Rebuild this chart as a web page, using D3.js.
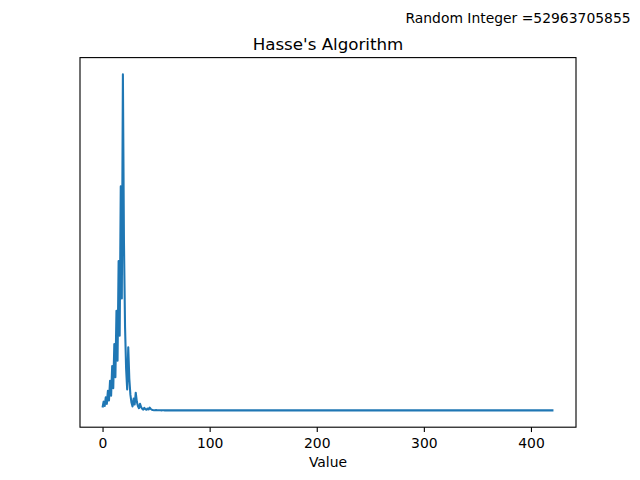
<!DOCTYPE html>
<html>
<head>
<meta charset="utf-8">
<script src="https://cdn.jsdelivr.net/npm/d3@7"></script>
<style>
  html, body { margin: 0; padding: 0; background: #fff; }
  svg { display: block; font-family: "DejaVu Sans", sans-serif; }
</style>
</head>
<body>
<svg id="chart" width="640" height="480"></svg>
<script>
// ---- data ----
const titleText = "Hasse's Algorithm";
const subtitleText = "Random Integer =52963705855";
const xLabel = "Value";
const xTicks = [0, 100, 200, 300, 400];
// sequence values (index = step)
const values = [
52963705855,158891117566,79445558783,238336676350,119168338175,357505014526,178752507263,536257521790,268128760895,804386282686,
402193141343,1206579424030,603289712015,1809869136046,904934568023,2714803704070,1357401852035,4072205556106,2036102778053,6108308334160,
3054154167080,1527077083540,763538541770,381769270885,1145307812656,572653906328,286326953164,143163476582,71581738291,214745214874,
107372607437,322117822312,161058911156,80529455578,40264727789,120794183368,60397091684,30198545842,15099272921,45297818764,
22648909382,11324454691,33973364074,16986682037,50960046112,25480023056,12740011528,6370005764,3185002882,1592501441,
4777504324,2388752162,1194376081,3583128244,1791564122,895782061,2687346184,1343673092,671836546,335918273,
1007754820,503877410,251938705,755816116,377908058,188954029,566862088,283431044,141715522,70857761,
212573284,106286642,53143321,159429964,79714982,39857491,119572474,59786237,179358712,89679356,
44839678,22419839,67259518,33629759,100889278,50444639,151333918,75666959,227000878,113500439,
340501318,170250659,510751978,255375989,766127968,383063984,191531992,95765996,47882998,23941499,
71824498,35912249,107736748,53868374,26934187,80802562,40401281,121203844,60601922,30300961,
90902884,45451442,22725721,68177164,34088582,17044291,51132874,25566437,76699312,38349656,
19174828,9587414,4793707,14381122,7190561,21571684,10785842,5392921,16178764,8089382,
4044691,12134074,6067037,18201112,9100556,4550278,2275139,6825418,3412709,10238128,
5119064,2559532,1279766,639883,1919650,959825,2879476,1439738,719869,2159608,
1079804,539902,269951,809854,404927,1214782,607391,1822174,911087,2733262,
1366631,4099894,2049947,6149842,3074921,9224764,4612382,2306191,6918574,3459287,
10377862,5188931,15566794,7783397,23350192,11675096,5837548,2918774,1459387,4378162,
2189081,6567244,3283622,1641811,4925434,2462717,7388152,3694076,1847038,923519,
2770558,1385279,4155838,2077919,6233758,3116879,9350638,4675319,14025958,7012979,
21038938,10519469,31558408,15779204,7889602,3944801,11834404,5917202,2958601,8875804,
4437902,2218951,6656854,3328427,9985282,4992641,14977924,7488962,3744481,11233444,
5616722,2808361,8425084,4212542,2106271,6318814,3159407,9478222,4739111,14217334,
7108667,21326002,10663001,31989004,15994502,7997251,23991754,11995877,35987632,17993816,
8996908,4498454,2249227,6747682,3373841,10121524,5060762,2530381,7591144,3795572,
1897786,948893,2846680,1423340,711670,355835,1067506,533753,1601260,800630,
400315,1200946,600473,1801420,900710,450355,1351066,675533,2026600,1013300,
506650,253325,759976,379988,189994,94997,284992,142496,71248,35624,
17812,8906,4453,13360,6680,3340,1670,835,2506,1253,
3760,1880,940,470,235,706,353,1060,530,265,
796,398,199,598,299,898,449,1348,674,337,
1012,506,253,760,380,190,95,286,143,430,
215,646,323,970,485,1456,728,364,182,91,
274,137,412,206,103,310,155,466,233,700,
350,175,526,263,790,395,1186,593,1780,890,
445,1336,668,334,167,502,251,754,377,1132,
566,283,850,425,1276,638,319,958,479,1438,
719,2158,1079,3238,1619,4858,2429,7288,3644,1822,
911,2734,1367,4102,2051,6154,3077,9232,4616,2308,
1154,577,1732,866,433,1300,650,325,976,488,
244,122,61,184,92,46,23,70,35,106,
53,160,80,40,20,10,5,16,8,4,
2,1
];

// ---- layout (matplotlib default 640x480) ----
const svg = d3.select("#chart");
const L = 80, R = 576, T = 57.6, B = 427.2;

const n = values.length - 1;
const xPad = n * 0.05;
const x = d3.scaleLinear().domain([-xPad, n + xPad]).range([L, R]);
const yMin = d3.min(values), yMax = d3.max(values);
const yPad = (yMax - yMin) * 0.05;
const y = d3.scaleLinear().domain([yMin - yPad, yMax + yPad]).range([B, T]);

// line
const line = d3.line().x((d, i) => x(i)).y(d => y(d));
svg.append("path")
  .datum(values)
  .attr("d", line)
  .attr("fill", "none")
  .attr("stroke", "#1f77b4")
  .attr("stroke-width", 2.08)
  .attr("stroke-linejoin", "round")
  .attr("stroke-linecap", "butt");

// frame
svg.append("rect")
  .attr("x", L).attr("y", T).attr("width", R - L).attr("height", B - T)
  .attr("fill", "none").attr("stroke", "#000").attr("stroke-width", 1.11);

// x axis
const xAxis = d3.axisBottom(x).tickValues(xTicks).tickSize(4.86).tickPadding(6).tickFormat(d3.format("d"));
const gx = svg.append("g").attr("transform", `translate(0,${B})`).call(xAxis);
gx.select(".domain").remove();
gx.selectAll(".tick line").attr("stroke", "#000").attr("stroke-width", 1.11);
gx.selectAll(".tick text").attr("fill", "#000").attr("font-size", "13.9px")
  .attr("font-family", "DejaVu Sans");

// x label
svg.append("text")
  .attr("x", (L + R) / 2).attr("y", 467)
  .attr("text-anchor", "middle")
  .attr("font-size", "13.9px").attr("fill", "#000")
  .text(xLabel);

// title
svg.append("text")
  .attr("x", (L + R) / 2).attr("y", 50)
  .attr("text-anchor", "middle")
  .attr("font-size", "16.7px").attr("fill", "#000")
  .text(titleText);

// figure text
svg.append("text")
  .attr("x", 518).attr("y", 23)
  .attr("text-anchor", "middle")
  .attr("font-size", "13.9px").attr("fill", "#000")
  .text(subtitleText);
</script>
</body>
</html>
